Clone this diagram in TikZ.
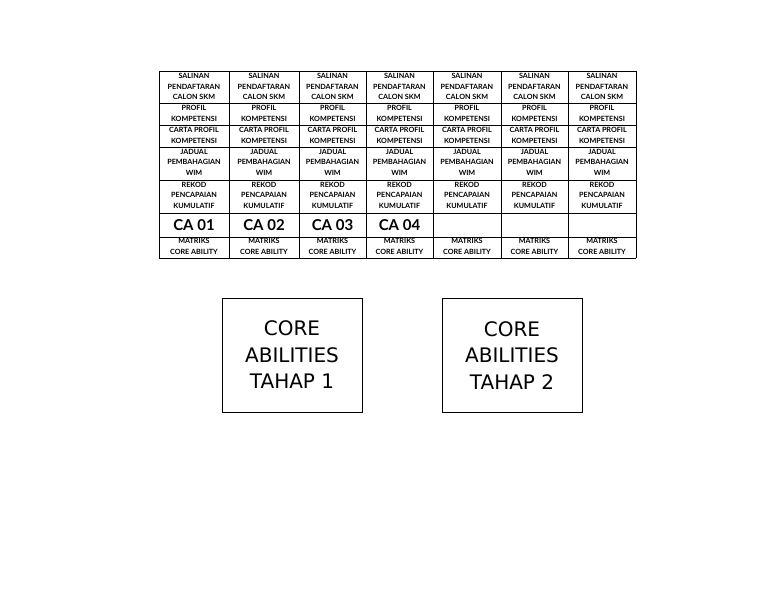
\documentclass[tikz,border=0pt]{standalone}
\usepackage{fontspec}
\setmainfont{Lato}
\newfontfamily\boxfont{DejaVu Sans}
\begin{document}
\begin{tikzpicture}[x=1pt,y=-1pt,
  cell/.style={font=\fontsize{7.2}{10.4}\selectfont\bfseries,align=center,inner sep=0pt},
  ca/.style={font=\fontsize{15}{16}\selectfont\bfseries,inner sep=0pt},
  big/.style={draw,line width=0.6pt,minimum width=140pt,minimum height=114pt,align=center,font=\boxfont\fontsize{20}{26.5}\selectfont}]
\useasboundingbox (0,0) rectangle (768,594);
\foreach \xx in {159,229,299,366,433,501,568,636}{\draw[line width=0.6pt] (\xx,71)--(\xx,258);}
\foreach \yy in {71,103,125,147,180,213,237,258}{\draw[line width=0.6pt] (159,\yy)--(636,\yy);}
\foreach \cx [count=\i] in {194,264,332.5,399.5,467,534.5,602}{
  \node[cell] (s\i) at (\cx,86.5) {SALINAN\\PENDAFTARAN\\CALON SKM};
  \node[cell] (p\i) at (\cx,113.5) {PROFIL\\KOMPETENSI};
  \node[cell] (c\i) at (\cx,135.5) {CARTA PROFIL\\KOMPETENSI};
  \node[cell] (j\i) at (\cx,162) {JADUAL\\PEMBAHAGIAN\\WIM};
  \node[cell] (r\i) at (\cx,195) {REKOD\\PENCAPAIAN\\KUMULATIF};
  \node[cell] (m\i) at (\cx,246.5) {MATRIKS\\CORE ABILITY};
}
\node[ca] (ca1) at (194,225) {CA 01};
\node[ca] (ca2) at (264,225) {CA 02};
\node[ca] (ca3) at (332.5,225) {CA 03};
\node[ca] (ca4) at (399.5,225) {CA 04};
\node[big] (t1) at (292,355) {CORE\\ABILITIES\\TAHAP 1};
\node[big] (t2) at (512,355.5) {CORE\\ABILITIES\\TAHAP 2};
\end{tikzpicture}
\end{document}
